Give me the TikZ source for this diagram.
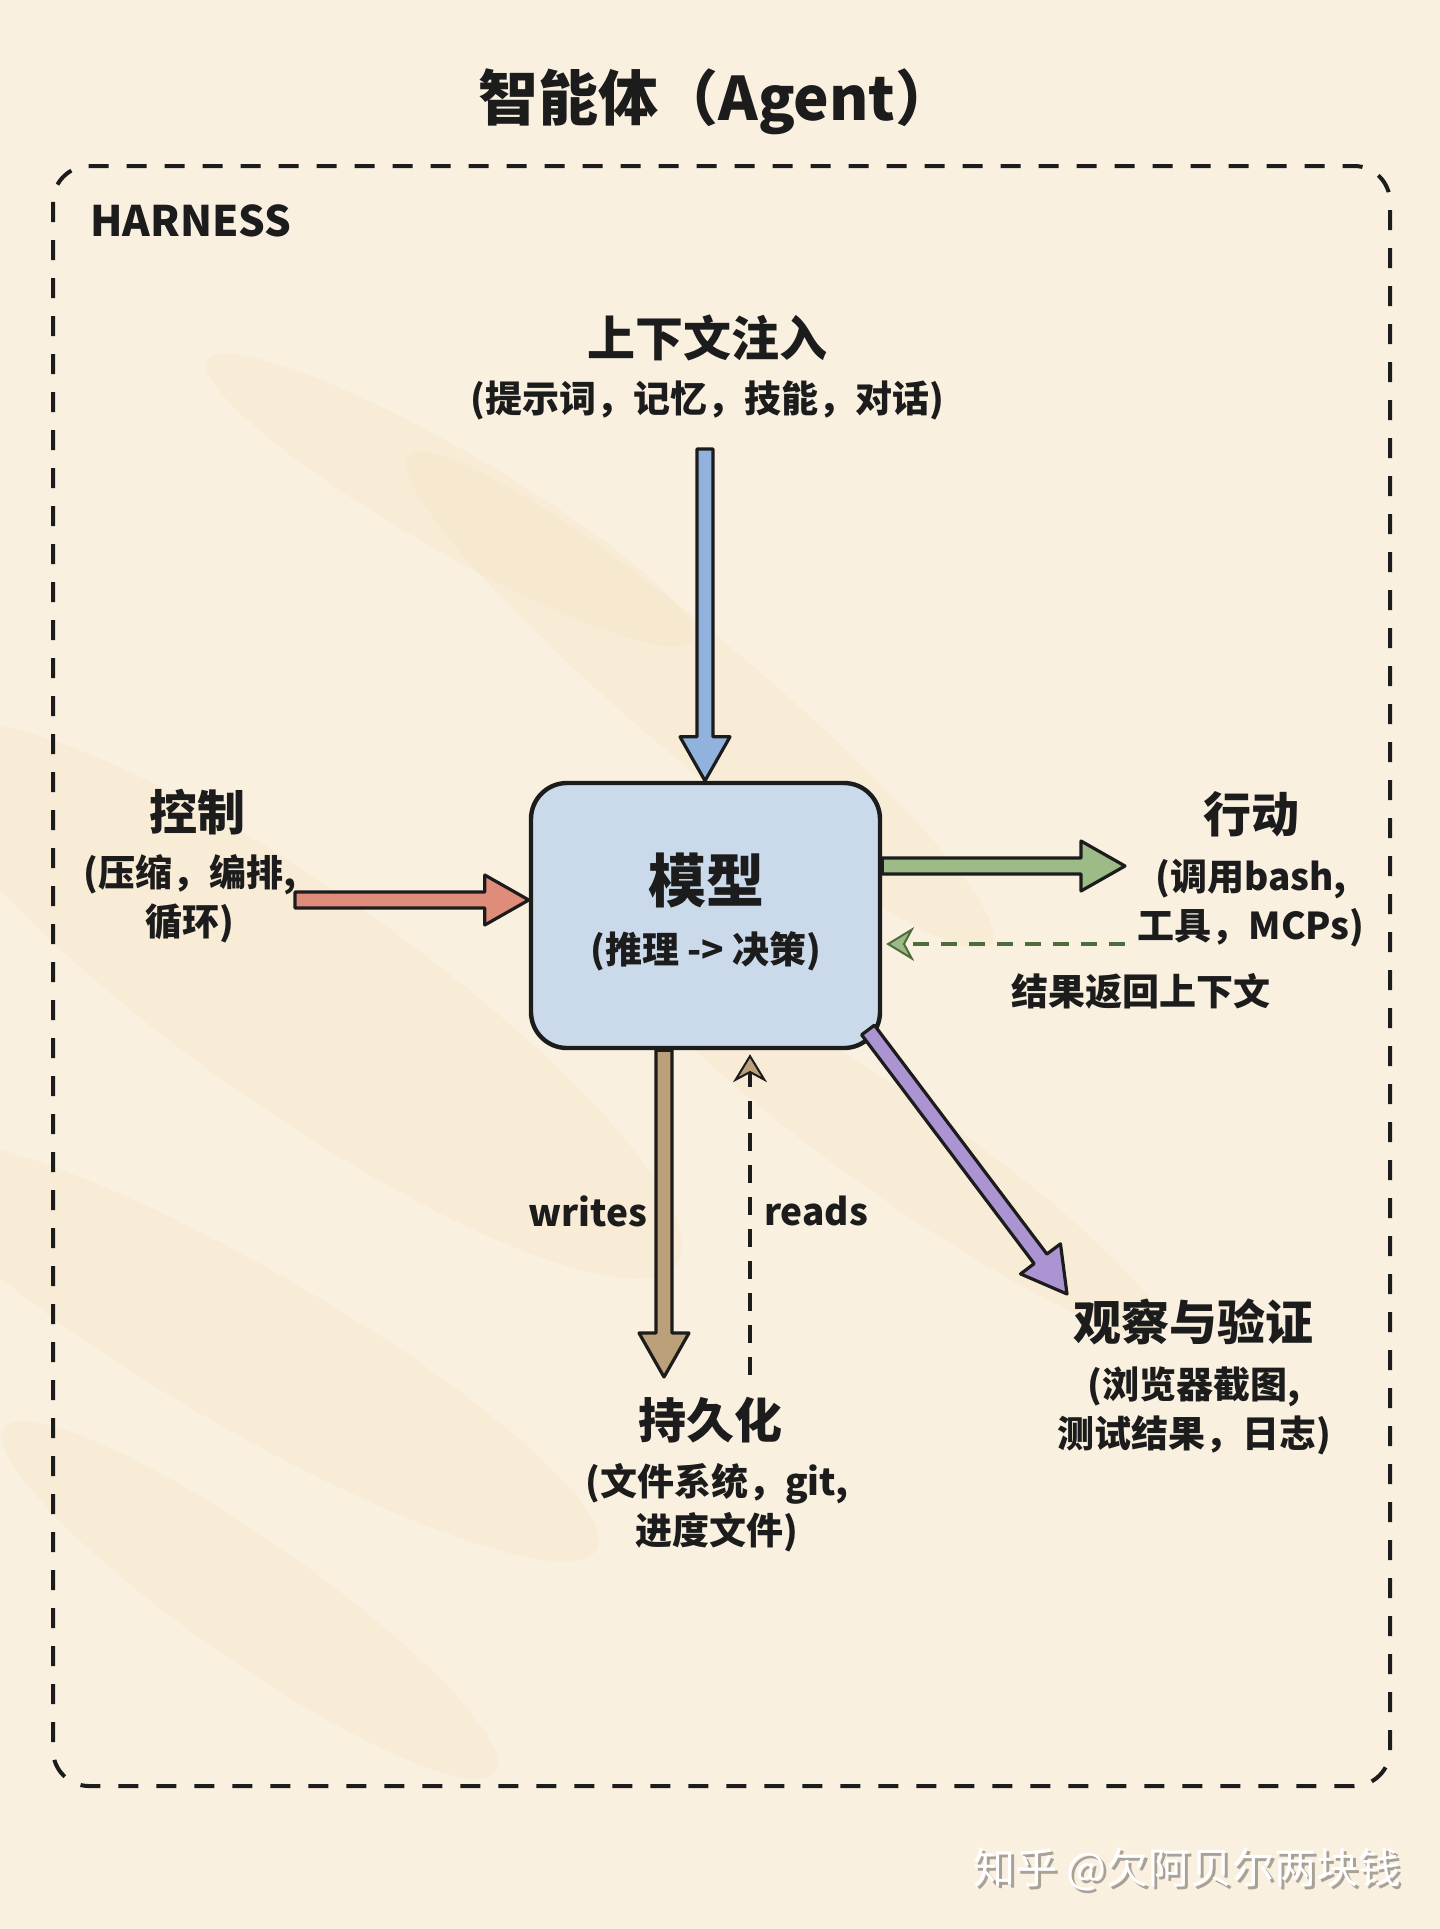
\documentclass[tikz,border=0pt]{standalone}
\usepackage{fontspec}
\setmainfont{Noto Sans CJK SC}
\usetikzlibrary{arrows.meta,calc}
\definecolor{bg}{HTML}{F9F0E0}
\definecolor{streak}{HTML}{F6DDAE}
\definecolor{ink}{HTML}{1C1C1C}
\definecolor{boxblue}{HTML}{CBDAEA}
\definecolor{blueA}{HTML}{92B2DE}
\definecolor{redA}{HTML}{E08C7A}
\definecolor{greenA}{HTML}{9DBB87}
\definecolor{greenD}{HTML}{4E6B3E}
\definecolor{purpleA}{HTML}{AC93D2}
\definecolor{brownA}{HTML}{BBA07A}
\definecolor{shadowc}{HTML}{A8A198}
\tikzset{
  headtxt/.style={font=\bfseries\fontsize{24pt}{28pt}\selectfont, text=ink, inner sep=0pt},
  subtxt/.style={font=\bfseries\fontsize{18.5pt}{24.5pt}\selectfont, text=ink, align=center, inner sep=0pt},
  lbltxt/.style={font=\bfseries\fontsize{18.5pt}{22pt}\selectfont, text=ink, inner sep=0pt},
  dashret/.style={draw=greenD, line width=2.2pt, dash pattern=on 8pt off 6pt,
     -{Stealth[length=14pt,width=17pt,fill=greenA,line width=1pt]}},
  dashread/.style={draw=ink, line width=2.2pt, dash pattern=on 9pt off 7pt,
     -{Stealth[length=14pt,width=17pt,fill=brownA,line width=1pt]}},
}
\newcommand\fatarrow[3]{%
  \filldraw[fill=#3, draw=ink, line width=1.6pt, line join=round]
    let \p1=(#1), \p2=(#2), \n1={atan2(\y2-\y1,\x2-\x1)}, \n2={veclen(\x2-\x1,\y2-\y1)}
    in {[shift={(\p1)}, rotate=\n1]
      (0pt,-4pt) -- ({\n2-22pt},-4pt) -- ({\n2-22pt},-12.5pt) -- ({\n2},0pt)
      -- ({\n2-22pt},12.5pt) -- ({\n2-22pt},4pt) -- (0pt,4pt) -- cycle};
}
\begin{document}
\begin{tikzpicture}[x=0.5pt,y=-0.5pt]
\useasboundingbox (0,0) rectangle (1440,1929);
% background
\fill[bg] (0,0) rectangle (1440,1929);
\begin{scope}[opacity=0.16]
  \fill[streak, rotate around={-35:(300,1000)}] (300,1000) ellipse (460 and 110);
  \fill[streak, rotate around={-30:(250,1350)}] (250,1350) ellipse (400 and 80);
  \fill[streak, rotate around={-40:(700,700)}] (700,700) ellipse (380 and 60);
  \fill[streak, rotate around={-30:(450,500)}] (450,500) ellipse (280 and 50);
  \fill[streak, rotate around={-35:(900,1150)}] (900,1150) ellipse (320 and 50);
  \fill[streak, rotate around={-35:(250,1600)}] (250,1600) ellipse (300 and 60);
\end{scope}

% title
\node[font=\bfseries\fontsize{30pt}{34pt}\selectfont, text=ink] (title) at (717,102) {智能体（Agent）};

% harness border
\draw[ink, line width=2pt, dash pattern=on 10pt off 9pt, rounded corners=18pt]
  (53,166) rectangle (1390,1786);
\node[font=\bfseries\fontsize{21pt}{24pt}\selectfont, text=ink, anchor=west, inner sep=0pt] (harness) at (90,221) {HARNESS};

% model box
\node[draw=ink, line width=2.2pt, fill=boxblue, rounded corners=18pt,
      minimum width=174.5pt, minimum height=132.5pt] (box) at (705.5,915.5) {};
\node[font=\bfseries\fontsize{29pt}{32pt}\selectfont, text=ink, inner sep=0pt] (model) at (706,880) {模型};
\node[lbltxt] (modelsub) at (706,951) {(推理 -> 决策)};

% context injection
\node[headtxt] (ctx) at (707,338) {上下文注入};
\node[subtxt] (ctxsub) at (707,400) {(提示词，记忆，技能，对话)};
\coordinate (ctxS) at (705,449);
\fatarrow{ctxS}{box.north -| ctxS}{blueA}

% control
\node[headtxt] (ctrl) at (197,812) {控制};
\node[subtxt] (ctrlsub) at (190,899) {(压缩，编排,\\循环)};
\coordinate (ctrlS) at (295,900);
\fatarrow{ctrlS}{box.west |- ctrlS}{redA}

% action
\node[headtxt] (act) at (1251,814) {行动};
\node[subtxt] (actsub) at (1251,903) {(调用bash,\\工具，MCPs)};
\coordinate (actE) at (1125,866);
\fatarrow{box.east |- actE}{actE}{greenA}

% result back
\coordinate (retS) at (1125,944);
\draw[dashret] (retS) -- ($(box.east |- retS)+(4,0)$);
\node[lbltxt] (ret) at (1141,991) {结果返回上下文};

% observe
\coordinate (obsS) at (868,1030);
\coordinate (obsE) at (1067,1294);
\fatarrow{obsS}{obsE}{purpleA}
\node[headtxt] (obs) at (1193,1322) {观察与验证};
\node[subtxt] (obssub) at (1194,1411) {(浏览器截图,\\测试结果，日志)};

% persistence
\coordinate (wrE) at (664,1377);
\fatarrow{box.south -| wrE}{wrE}{brownA}
\coordinate (rdS) at (750,1375);
\draw[dashread] (rdS) -- ($(box.south -| rdS)+(0,4)$);
\node[lbltxt] (writes) at (588,1211) {writes};
\node[lbltxt] (reads) at (816,1211) {reads};
\node[headtxt] (pers) at (710,1420) {持久化};
\node[subtxt] (perssub) at (717,1508) {(文件系统，git,\\进度文件)};

% watermark
\node[font=\fontsize{21pt}{24pt}\selectfont, text=shadowc] (wmshadow) at (1190,1872) {知乎 @欠阿贝尔两块钱};
\node[font=\fontsize{21pt}{24pt}\selectfont, text=white] (wm) at (1187,1869) {知乎 @欠阿贝尔两块钱};
\end{tikzpicture}
\end{document}
